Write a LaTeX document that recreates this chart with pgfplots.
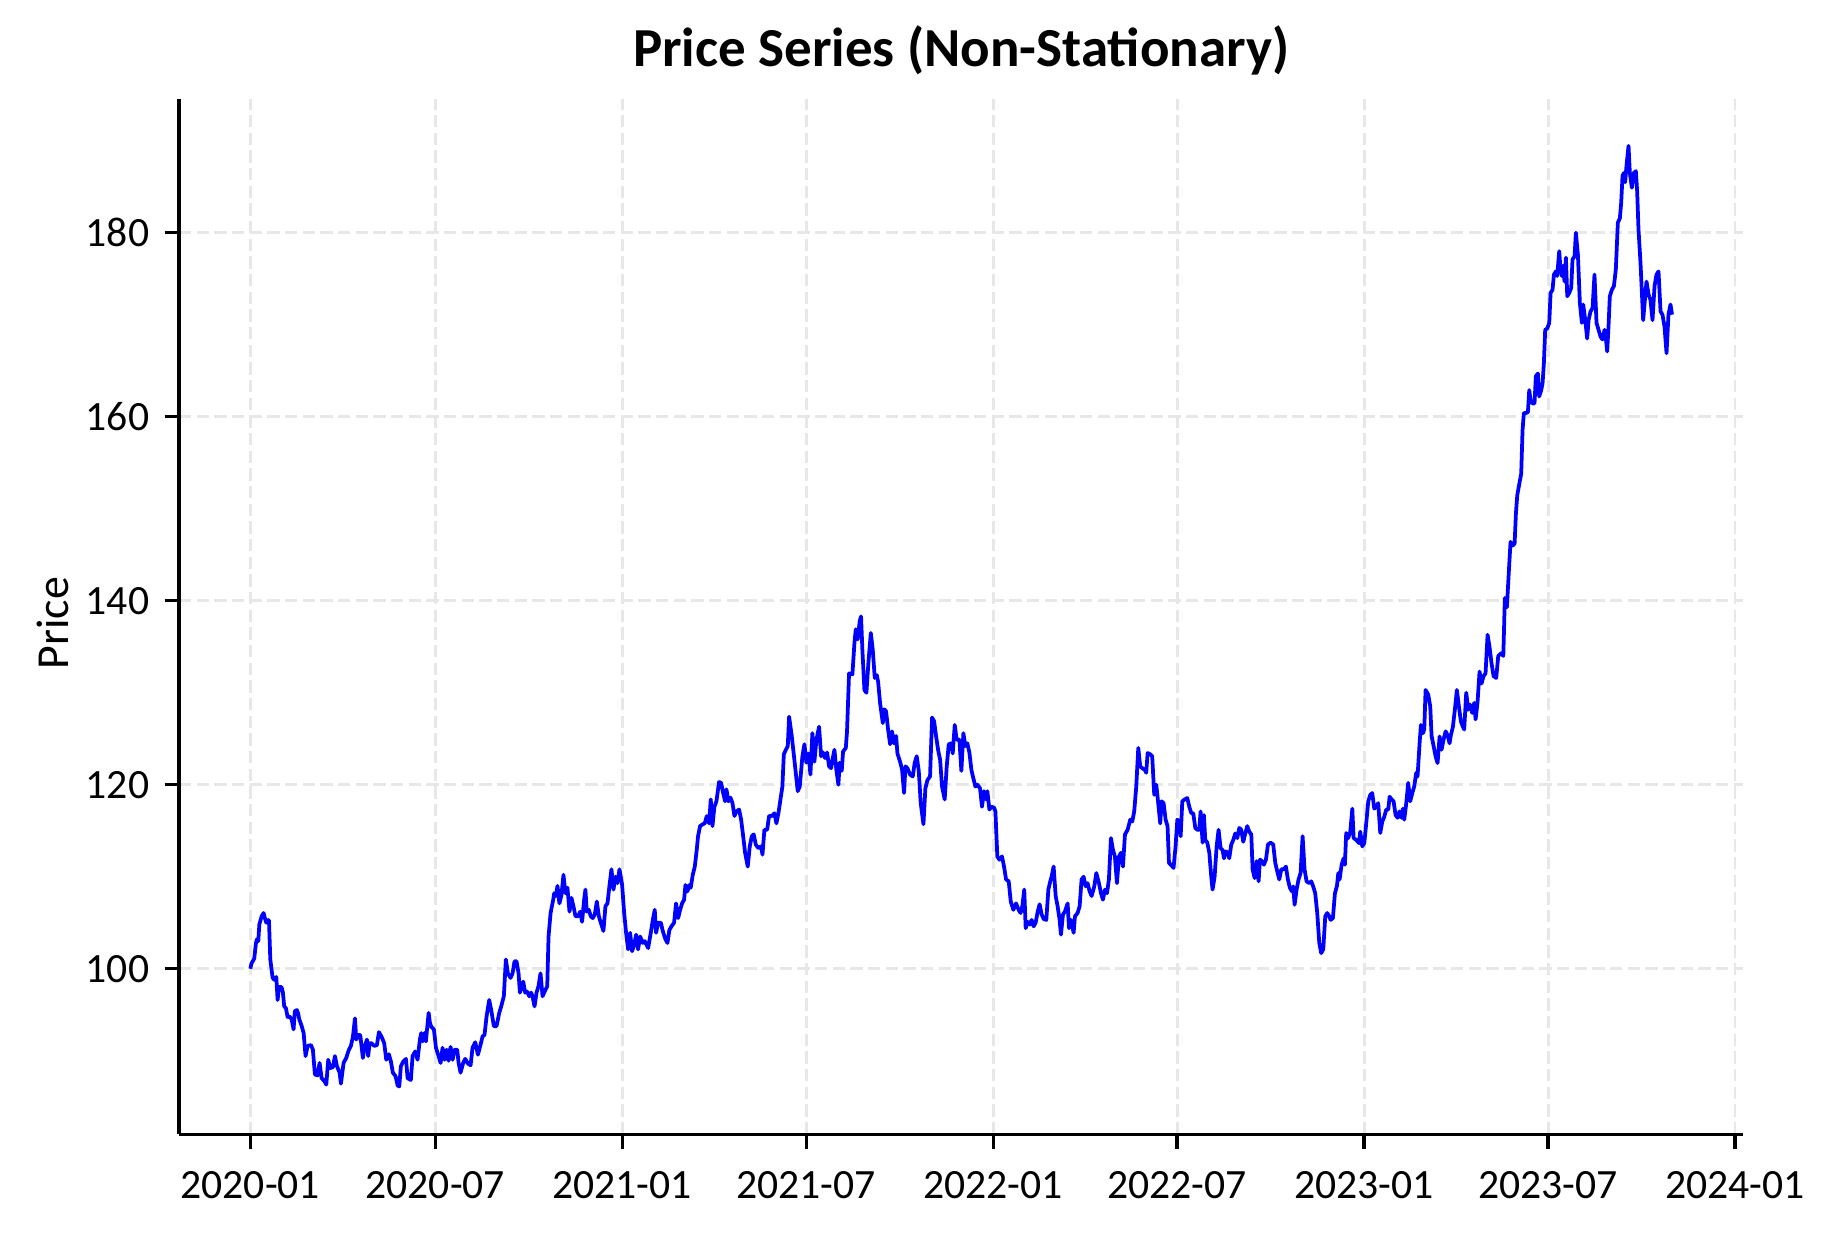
\documentclass[border=0pt]{standalone}
\usepackage{pgfplots}
\pgfplotsset{compat=1.18}
\usepackage{fontspec}
\setmainfont{Carlito}
\definecolor{gridgray}{RGB}{231,231,231}
\definecolor{priceblue}{RGB}{0,0,255}

\begin{document}
\begin{tikzpicture}
% fixed page frame around the plotting area
\useasboundingbox (-43pt,-23.86pt) rectangle (397.2pt,272.26pt);
\begin{axis}[
  scale only axis,
  width=375.4pt, height=248.4pt,
  xmin=-70, xmax=1469,
  ymin=82.0, ymax=194.5,
  axis lines*=left,
  axis line style={line width=0.8pt, black},
  tick align=outside,
  xtick pos=left, ytick pos=left,
  major tick length=3.5pt,
  tick style={line width=0.8pt, black},
  xtick={0,182,366,547,731,912,1096,1277,1461},
  xticklabels={2020-01,2020-07,2021-01,2021-07,2022-01,2022-07,2023-01,2023-07,2024-01},
  ytick={100,120,140,160,180},
  /pgf/number format/assume math mode=true,
  ticklabel style={font=\fontsize{10}{12}\selectfont},
  xticklabel style={inner sep=0pt, yshift=-5.2pt},
  yticklabel style={inner sep=0pt, xshift=-3.5pt},
  grid=major,
  major grid style={gridgray, line width=0.7pt, dash pattern=on 2.96pt off 1.28pt},
  title={Price Series (Non-Stationary)},
  title style={at={(axis description cs:0.5,1)}, anchor=south, inner sep=0pt, yshift=-0.3pt,
               font=\fontsize{13.2}{15}\selectfont\bfseries},
  ylabel={Price},
  ylabel style={at={(axis description cs:-0.0807,0.494)}, anchor=center, inner sep=0pt,
                font=\fontsize{11}{13}\selectfont},
]
\addplot[priceblue, line width=0.9pt, line join=round, mark=none] table {
0 100.0
1.3 100.6
3.9 101.1
5.6 102.8
6.6 103.2
7.9 103.0
8.9 104.8
11.2 105.7
13.1 106.05
14.4 105.5
15.7 105.0
17.1 105.3
18.4 105.25
19.7 101.0
22 99.0
23.6 98.8
25.6 99.1
26.9 96.6
28.2 98.0
30.8 98.0
32.1 97.4
33.4 95.9
35.1 95.7
36.7 94.75
38.7 94.8
40.7 94.5
42.6 93.4
43.9 95.4
45.9 95.5
47.2 95.1
48.2 94.5
50.5 93.8
52.5 93.0
54.4 90.5
56.4 91.6
59.7 91.7
61.6 91.2
63.6 88.5
66.2 88.4
68.2 89.75
70.2 88.1
72.8 87.8
74.8 87.4
76.7 90.1
78.7 89.2
81.3 89.3
83.3 90.5
85.3 89.4
87.9 88.7
89.2 87.5
91.8 89.75
94.4 90.3
97.1 91.2
99 91.6
101 92.6
103 94.6
104.3 92.3
106.2 92.8
108.2 92.8
110.8 90.3
112.8 91.6
114.8 92.3
116 90.5
117.4 91.9
119.3 91.9
122 91.6
124.6 91.7
126.6 93.1
129.2 92.6
131.8 91.9
133.8 90.1
136.4 90.7
138.4 89.9
140.3 88.7
143 88.3
145 87.3
146.6 87.2
148.2 89.4
150.5 89.9
153.2 90.2
154.8 88.1
158 87.9
159.7 90.5
162.3 91.0
164.6 90.1
166.9 92.3
168.2 93.0
169.6 92.1
171.2 93.0
172.8 92.1
175.5 95.2
176.8 94.1
178.1 93.7
180.7 93.4
182.7 91.4
185.3 90.5
187.3 89.75
189.2 91.4
191.2 90.1
193.2 91.2
195.1 90.0
197.1 91.5
199.1 90.1
201 91.2
203.6 91.2
205 89.75
206.9 88.7
209.5 89.75
211.5 90.2
214.1 89.7
216.8 89.5
218.7 91.4
221.4 92.0
224 90.65
226.6 91.75
228.6 92.65
230.5 92.8
232.5 94.8
235.1 96.6
237.1 95.5
239.7 93.75
242.3 93.75
245 95.2
246.9 95.9
249.5 97.0
251.5 101.0
253.5 99.5
256.1 99.0
258.1 99.5
260 100.8
262 100.8
264 99.5
265.3 97.4
267.3 98.1
268.6 98.6
270.5 97.4
272.5 97.5
274.5 97.0
276.4 97.4
277.7 97.0
279.7 95.9
281.7 97.4
283.6 98.1
285.6 99.5
287.6 97.0
289.6 97.5
292.2 98.1
293.5 103.5
295.5 106.05
298.1 107.5
299 108.2
300.6 107.9
302.3 109.0
304.2 107.1
306.2 108.0
308.2 110.2
310.1 108.2
312.1 108.8
314.1 106.2
316 107.7
318 106.8
320 105.7
322.6 105.7
324.6 106.2
326.5 105.1
328.5 107.5
329.8 108.6
331.1 106.2
333.1 106.4
335.1 105.7
337 105.5
339 105.9
341 107.3
343 105.7
344.9 105.0
347.5 104.1
349.5 106.8
351.5 107.1
353.4 109.0
355.4 110.8
357.4 108.6
359.3 110.0
361.3 109.3
363.3 110.8
365.9 109.1
367.9 106.05
369.8 103.9
371.8 102.1
373.8 103.9
375.7 101.9
377.7 102.6
379.7 103.7
381.6 102.1
383.6 103.5
386.2 102.8
388.2 103.0
391.5 102.25
394.1 103.9
396.1 105.3
398 106.4
399.3 103.9
401.3 105.0
404 105.0
405.9 104.1
408.5 103.2
410.5 102.8
412.4 104.2
414.4 104.6
417 105.0
419 107.1
421 105.5
423 106.4
424.9 107.1
426.9 107.5
428.2 109.1
430.1 108.4
432.1 109.1
433.4 108.8
435.4 110.2
437.4 111.1
439.3 112.9
440.6 114.4
442.6 115.5
445.2 115.7
447.2 115.8
449.2 116.6
451.5 115.8
453.1 118.4
454.8 115.5
456.7 117.6
458.7 118.2
461.3 120.3
463.3 120.2
465.3 119.1
467.2 118.2
468.5 119.5
470.5 118.2
472.5 118.6
474.5 118.0
476.4 116.6
478.4 117.1
481 117.3
483 116.2
485 114.4
486.9 112.6
489.5 111.1
491.5 113.3
493.5 114.4
495.4 114.6
497.4 113.5
500 113.1
502.6 113.3
504 112.4
505.9 115.1
508.6 115.1
510.5 116.6
513.1 116.6
515.8 116.9
517.7 115.8
519.7 116.9
521.7 118.4
523.6 119.8
525 123.3
527 123.8
528.9 124.2
530.2 127.4
532.8 125.3
535.4 122.7
538.7 119.3
540.7 119.8
543.3 123.1
545.3 124.4
547.2 122.4
549.2 123.4
551.2 121.1
553.1 125.6
555.1 122.5
557.1 124.9
559.7 126.3
561.7 123.1
563.6 123.5
565.6 122.9
567.6 123.5
569.5 122.0
571.5 121.8
572.8 122.7
574.8 123.8
576.7 121.6
578.7 120.0
580 122.4
582 121.5
583.3 123.6
586 124.0
587.2 125.8
589.2 132.1
592.5 132.0
594.5 135.4
595.8 136.9
597.7 135.8
599.7 137.8
601 138.3
602.3 134.7
604.3 130.3
606.3 130.0
608.2 133.2
610.6 136.5
612.5 134.7
614.5 131.6
616.5 131.9
617.8 131.2
619.7 128.9
622.4 126.7
623.7 128.2
625.6 128.0
627.6 126.0
629.6 124.4
631.5 125.8
633.5 124.5
635.5 125.3
636.8 123.4
639.4 122.5
641.4 121.6
643.3 119.1
644.7 122.0
646.6 121.8
649.2 121.1
651.9 120.9
653.8 122.4
655.8 123.1
657.8 121.5
659.7 118.0
662.4 115.7
664.3 119.6
666.3 120.5
668.9 120.9
670.9 127.3
672.9 126.9
674.8 125.3
676.8 123.8
678.8 122.7
680.7 119.8
683.3 118.4
685.3 122.0
687.3 124.4
689.9 124.5
691.2 123.4
693.2 126.5
695.1 124.9
697.8 124.9
699.7 121.5
701.7 125.6
703.7 124.2
705.6 124.5
707.6 123.5
709.6 121.6
711.5 120.7
713.5 119.8
715.5 120.0
718.1 119.6
720 117.6
722 119.3
724 118.4
725.3 119.3
727.3 117.3
729.2 117.6
731.9 117.5
733.2 117.1
735.1 112.2
737.1 111.85
739.7 112.2
741.7 111.1
743.7 109.7
746.3 109.5
748.3 107.3
750.9 106.4
753.5 107.1
756.1 106.4
758 106.05
759.7 106.8
761.6 108.6
763 104.4
764.9 105.1
766.9 104.8
768.9 105.3
770.8 104.6
772.8 105.0
774.8 106.2
776.7 107.0
778.7 105.9
780.7 105.4
783.3 105.3
785.3 108.6
787.2 109.5
788.5 110.0
790.5 111.1
792.5 107.9
794.4 106.8
796.4 105.3
797.7 103.7
799.7 105.9
801.6 106.2
804.3 107.1
805.6 104.4
807.5 105.3
810.2 103.9
811.5 105.7
814.1 106.05
816.1 106.8
818 109.7
820 110.0
822 108.95
823.9 109.3
825.9 108.4
827.9 107.9
830.5 108.95
832.5 110.4
835.1 109.3
837.1 108.2
839 107.5
841 108.6
843 108.2
844.9 109.7
846.9 114.2
848.9 112.9
850.8 112.2
852.8 109.3
854.8 112.2
856.7 112.6
858.7 111.1
860.7 114.6
863.3 115.1
865.9 116.2
867.9 116.0
869.8 117.1
871.8 119.8
873.8 124.0
875.7 122.0
877.7 121.8
880.3 121.6
881.6 121.3
883 123.45
885.6 123.3
887.5 123.1
889.5 118.9
891.5 120.0
893.4 118.0
895.4 115.8
896.7 118.2
898.7 118.0
900.7 116.2
902.6 115.5
904 111.5
905.9 111.3
908.5 110.95
910.5 113.3
912.2 116.2
914.1 116.0
915.5 114.4
917.1 118.2
919.4 118.4
922 118.55
924 117.6
926 116.9
927.9 116.9
929.9 115.3
931.9 115.1
933.8 115.1
935.1 117.1
937.1 113.7
938.4 116.7
939.7 114.0
941.7 113.7
943.7 112.6
945.6 110.0
946.9 108.6
948.9 110.0
950.9 113.3
952.8 115.1
954.8 113.1
956.8 112.9
958.1 112.0
960 112.75
962 112.6
963.3 112.0
965.3 113.5
967.3 114.0
969.2 114.7
971.2 114.2
973.2 115.3
975.1 115.1
977.1 113.8
979.1 114.7
981 115.5
983 114.9
985 114.6
986.3 110.8
988.3 109.85
990.2 111.7
992.2 109.5
993.5 111.85
995.5 111.7
997.4 111.3
999.4 111.85
1001.4 113.5
1004 113.7
1006.6 113.5
1008.6 111.5
1010.5 110.6
1012.5 109.7
1014.5 110.8
1017.1 110.8
1019.1 111.1
1021 109.7
1023 108.8
1025 108.4
1026.3 108.95
1027.6 106.95
1029.6 108.6
1031.5 109.7
1033.5 110.4
1035.5 114.4
1037.4 110.8
1039.4 109.5
1042 109.3
1044 109.5
1045.9 108.95
1047.9 108.2
1049.9 106.05
1051.9 102.8
1053.8 101.7
1055.8 102.1
1057.8 105.7
1059.7 106.05
1061.7 105.7
1063 105.3
1065.3 105.5
1067.3 108.2
1069.3 109.0
1070.6 110.4
1071.9 109.7
1073.9 111.3
1075.8 112.0
1077.1 111.3
1078.4 114.75
1080.4 114.2
1082.4 114.9
1084.4 117.4
1085.7 114.2
1088.3 114.0
1090.9 113.65
1092.2 114.9
1094.2 113.3
1096.2 113.65
1098.1 115.8
1100.1 118.2
1102.1 118.9
1104 119.1
1106 117.4
1108 117.6
1109.9 118.0
1111.9 114.75
1113.9 116.0
1115.8 116.5
1117.8 117.3
1119.8 117.3
1121.1 118.7
1123.1 118.4
1125 118.2
1127 116.7
1129 116.4
1130.9 117.1
1132.9 116.4
1134.2 117.4
1135.5 116.2
1137.5 118.0
1139.4 120.2
1141.4 118.2
1143.4 119.1
1145.3 119.8
1147.3 121.3
1148.6 120.9
1150.6 124.5
1151.9 126.5
1153.9 125.6
1155.2 126.0
1156.5 130.3
1159.1 129.8
1161.1 128.5
1162.4 125.3
1164.4 124.2
1166.3 123.1
1168.3 122.35
1170.3 125.25
1172.2 123.8
1174.2 124.9
1176.2 125.8
1178.1 125.4
1180.1 124.5
1181.4 125.4
1183.4 126.3
1185.3 128.15
1187.3 130.3
1189.3 128.5
1191.2 126.9
1193.2 126.3
1194.5 126.0
1196.5 130.0
1198.5 128.15
1200.4 128.7
1202.4 127.8
1204.4 128.9
1205.7 127.1
1207.6 128.9
1209.6 132.3
1211.6 131.0
1213.5 131.8
1215.5 132.1
1217.5 136.3
1219.4 135.0
1221.4 133.2
1223.4 131.8
1226 131.6
1228 134.0
1231 134.3
1233 134.0
1234.5 140.3
1236.5 139.3
1238.5 143.3
1240.1 146.4
1242.1 146.0
1244.1 146.2
1245.4 149.5
1246.7 151.45
1248.7 152.7
1250.6 153.8
1251.9 158.5
1253.2 160.4
1255.2 160.4
1257.2 160.5
1258.5 162.9
1259.8 161.8
1261.8 161.45
1263.7 161.45
1265 164.4
1267 164.7
1268.3 162.2
1270.3 162.9
1271.6 163.6
1272.9 165.8
1274.2 169.45
1276.2 169.6
1278.2 170.2
1279.5 173.45
1281.4 173.8
1282.8 175.45
1284.7 175.8
1286 175.3
1288 178.0
1289.3 176.0
1290.6 175.3
1291.9 176.4
1293.2 174.7
1294.6 177.3
1295.9 173.1
1297.8 173.45
1299.8 174.0
1301.1 177.1
1303.1 177.45
1304.4 180.0
1306.4 177.6
1308.3 172.4
1310.3 170.2
1311.6 172.2
1313.6 170.5
1315.5 168.5
1316.9 170.5
1318.8 171.45
1320.8 171.8
1322.7 175.45
1324.7 170.2
1326.7 169.45
1328.7 168.7
1330.6 168.4
1332.6 169.45
1333.9 168.5
1335.2 167.1
1336.5 169.8
1337.8 173.1
1339.8 173.8
1341.8 174.2
1343.7 176.0
1345.7 181.1
1347.7 181.6
1349 183.3
1350.3 186.2
1351.6 186.5
1352.9 185.5
1354.2 187.3
1356.2 189.45
1357.5 186.5
1359.5 184.9
1361.4 186.5
1363.4 186.7
1364.7 184.5
1366 180.4
1368 176.7
1370.6 170.5
1372.6 173.1
1373.9 174.7
1375.9 173.3
1377.8 172.7
1379.8 170.5
1381.8 174.2
1383.7 175.45
1385.7 175.8
1387.7 171.45
1389.6 171.1
1391.6 169.8
1393.6 166.9
1395.5 171.1
1397.5 172.2
1399 171.1
};
\end{axis}
\end{tikzpicture}
\end{document}
